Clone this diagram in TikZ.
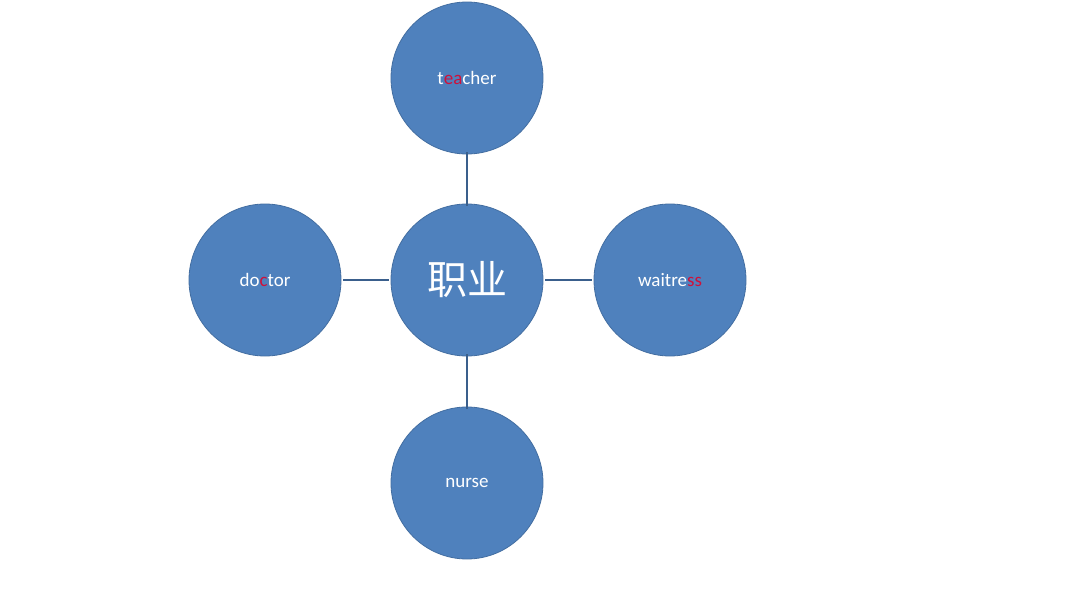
\documentclass[tikz,border=0pt]{standalone}
\usepackage{fontspec}
\setmainfont{Carlito}
\newfontfamily\cjk{Noto Sans CJK SC}
\definecolor{cfill}{HTML}{4F81BD}
\definecolor{cline}{HTML}{3A5F8C}
\definecolor{hl}{HTML}{D0103A}
\begin{document}
\begin{tikzpicture}[x=1pt,y=-1pt,
  bub/.style={circle,fill=cfill,draw=cfill!85!black,line width=0.8pt,minimum size=152pt,inner sep=0pt,text=white,font=\fontsize{19}{22}\selectfont},
  conn/.style={draw=cline,line width=1.8pt}]
\useasboundingbox[fill=white] (0,0) rectangle (1080,608);
\node[bub] (c) at (467,280) {\cjk\fontsize{40}{44}\selectfont 职业};
\node[bub] (t) at (467,78) {t\textcolor{hl}{ea}cher};
\node[bub] (b) at (467,483) {nurse};
\node[bub] (l) at (265,280) {do\textcolor{hl}{c}tor};
\node[bub] (r) at (670,280) {waitre\textcolor{hl}{ss}};
\draw[conn] ([yshift=-2pt]c.north) -- ([yshift=2pt]t.south);
\draw[conn] ([yshift=2pt]c.south) -- ([yshift=-2pt]b.north);
\draw[conn] ([xshift=-2pt]c.west) -- ([xshift=2pt]l.east);
\draw[conn] ([xshift=2pt]c.east) -- ([xshift=-2pt]r.west);
\end{tikzpicture}
\end{document}
